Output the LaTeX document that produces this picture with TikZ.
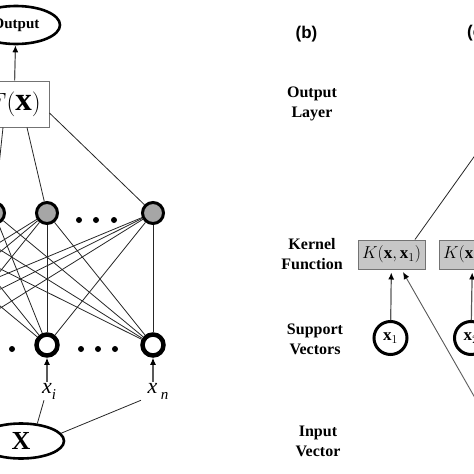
\documentclass[tikz,border=0pt]{standalone}
\usepackage{fontspec}
\setmainfont{Liberation Serif}
\setsansfont{Liberation Sans}
\usetikzlibrary{shapes.geometric,arrows.meta,calc}
\begin{document}
\begin{tikzpicture}[x=1pt,y=-1pt,
  conn/.style={draw=black!85, line width=0.8pt},
  arr/.style={draw=black!65, line width=1.2pt, -{Latex[length=7pt,width=6pt,color=black]}},
  hid/.style={circle, draw=black, line width=3pt, fill=black!35, minimum size=21pt, inner sep=0pt},
  inp/.style={circle, draw=black, line width=4.5pt, fill=white, minimum size=21pt, inner sep=0pt},
  dotn/.style={circle, fill=black, minimum size=6pt, inner sep=0pt},
  ell/.style={ellipse, draw=black, line width=2.6pt, fill=white, inner sep=0pt},
  fbox/.style={draw=black!55, line width=1pt, fill=white, minimum width=70pt, minimum height=46pt, inner sep=0pt},
  kbox/.style={draw=black!55, line width=1pt, fill=black!22, minimum width=67pt, minimum height=29pt, inner sep=0pt, font=\fontsize{17}{20}\selectfont},
  sv/.style={circle, draw=black, line width=3pt, fill=white, minimum size=33pt, inner sep=0pt, font=\fontsize{17}{20}\selectfont},
  lab/.style={align=center, font=\fontsize{16}{20}\selectfont\bfseries},
  xlab/.style={font=\fontsize{22}{24}\selectfont\itshape, inner sep=1pt},
]
\useasboundingbox (0,0) rectangle (474,474);
\clip (0,0) rectangle (474,474);

% ---------- panel (a) ----------
\node[ell, minimum width=88pt, minimum height=38pt, font=\fontsize{15}{18}\selectfont\bfseries] (out) at (16,25) {Output};
\node[fbox, font=\fontsize{33}{38}\selectfont] (F) at (14,104) {$F(\mathbf{x})$};

\node[hid] (h1) at (-112,213) {};
\node[hid] (h2) at (-59,213) {};
\node[hid] (h3) at (-6,213) {};
\node[hid] (h4) at (47,213) {};
\node[hid] (h5) at (153,213) {};
\node[dotn] (hd1) at (79,220) {};
\node[dotn] (hd2) at (96,220) {};
\node[dotn] (hd3) at (114,220) {};

\node[inp] (i1) at (-165,345) {};
\node[inp] (i2) at (-112,345) {};
\node[inp] (i3) at (-59,345) {};
\node[inp] (i4) at (47,345) {};
\node[inp] (i5) at (153,345) {};
\node[dotn] (id0) at (-22,349) {};
\node[dotn] (id1) at (-5,349) {};
\node[dotn] (id2) at (12,349) {};
\node[dotn] (id3) at (81,349) {};
\node[dotn] (id4) at (98,349) {};
\node[dotn] (id5) at (115,349) {};

\node[xlab] (xi) at (49,391) {x\raisebox{-6pt}{\fontsize{15}{15}\selectfont i}};
\node[xlab] (xn) at (158,391) {x\,\raisebox{-6pt}{\fontsize{15}{15}\selectfont n}};

\node[ell, minimum width=86pt, minimum height=35pt, font=\fontsize{26}{30}\selectfont\bfseries] (X) at (21,441) {X};

% connections
\draw[arr] (F) -- (out);
\draw[conn] ($(F.south)+(-30,0)$) -- (h1);
\draw[conn] ($(F.south)+(-22,0)$) -- (h2);
\draw[conn] ($(F.south)+(-11,0)$) -- (h3);
\draw[conn] ($(F.south)+(13,0)$) -- (h4);
\draw[conn] ($(F.east)+(0,9)$) -- (h5);

\foreach \h in {h1,h2,h3,h4,h5}{
  \foreach \i in {i1,i2,i3,i4,i5}{
    \draw[conn] (\h) -- (\i);
  }
}

\draw[arr] (xi.north -| i4) -- (i4);
\draw[arr] (xn.north -| i5) -- (i5);
\draw[conn] (X.47) -- ($(xi.south)+(-5,0)$);
\draw[conn] (X.11) -- ($(xn.south)+(-17,0)$);

% ---------- panel (b) ----------
\node[font=\sffamily\bfseries\fontsize{17}{20}\selectfont] (pb) at (306.5,34) {(b)};
\node[font=\sffamily\bfseries\fontsize{17}{20}\selectfont, anchor=west, inner sep=0pt] (pc) at (467,33) {(c)};

\node[lab] (lout) at (312,104) {Output\\Layer};
\node[lab] (lker) at (312,254) {Kernel\\Function};
\node[lab] (lsv) at (315,339) {Support\\Vectors};
\node[lab] (lin) at (318,441) {Input\\Vector};

\node[kbox] (k1) at (391.5,254.5) {$K(\mathbf{x},\mathbf{x}_1)$};
\node[kbox] (k2) at (472.5,254.5) {$K(\mathbf{x},\mathbf{x}_2)$};
\node[sv] (s1) at (390.5,338) {$\mathbf{x}_1$};
\node[sv] (s2) at (471,338) {$\mathbf{x}_2$};

\coordinate (bout) at (521,91);
\coordinate (bin) at (502,445);

\draw[arr, shorten >=3pt] (s1) -- (k1);
\draw[arr, shorten >=3pt] (s2) -- (k2);
\draw[conn] ($(k1.north)+(23.5,0)$) -- (bout);
\draw[arr, line width=0.9pt, shorten >=3pt] (bin) -- ($(k1.south)+(10,0)$);
\end{tikzpicture}
\end{document}
